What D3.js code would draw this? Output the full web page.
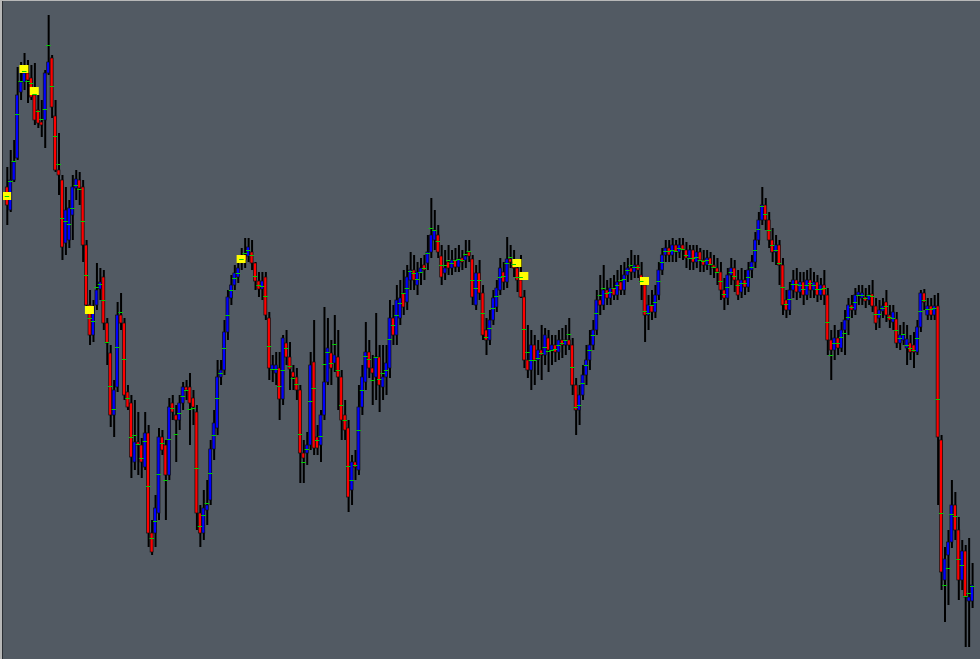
<!DOCTYPE html>
<html><head><meta charset="utf-8">
<script src="https://cdn.jsdelivr.net/npm/d3@7"></script>
<style>html,body{margin:0;padding:0;background:#525a63;overflow:hidden}svg{display:block}</style>
</head><body><svg id="c" width="980" height="659"></svg>
<script>
const opens=[813,790,820,842,908,918,927,922,905,890,878,880,927,942,884,830,820,757,760,785,812,820,813,755,695,665,695,711,723,677,647,585,613,685,677,608,597,538,558,555,533,567,467,467,487,563,555,525,597,585,580,597,613,613,602,588,487,467,490,500,551,572,623,630,668,702,715,723,742,745,744,748,737,719,711,723,682,630,627,632,601,657,643,628,623,610,547,547,555,638,563,555,585,618,647,637,643,623,585,572,510,538,530,593,618,648,632,623,643,613,623,632,682,665,682,707,698,720,730,715,727,735,737,748,760,765,744,727,738,732,740,733,742,740,748,741,695,727,707,670,660,680,693,710,728,718,741,738,732,720,703,640,630,655,640,650,645,662,650,655,648,660,655,660,655,615,590,605,625,640,655,670,700,695,710,702,712,705,718,710,725,732,728,735,725,715,685,695,688,705,730,745,752,745,755,748,755,750,742,750,738,748,740,735,742,735,732,728,710,702,725,732,720,708,720,713,730,738,760,780,795,780,760,748,755,735,700,690,710,720,708,718,705,720,710,718,705,715,705,660,650,662,652,670,680,695,690,705,702,703,700,706,694,682,689,698,685,678,681,657,660,652,657,655,648,673,707,685,694,685,694,560,420,445,458,495,470,420,449,399,399];
const highs=[833,850,860,933,938,947,940,935,937,905,900,930,985,945,900,867,825,813,800,825,830,828,820,760,710,700,737,732,730,682,655,620,698,707,682,615,605,600,588,562,588,575,480,505,572,570,560,602,605,595,605,618,620,627,610,595,495,510,520,560,590,640,640,680,710,725,735,738,752,762,762,760,738,728,728,728,688,645,648,648,665,670,658,635,632,615,560,568,648,680,575,590,693,682,660,685,670,630,600,580,545,550,615,635,678,660,645,687,655,655,655,700,695,715,720,730,735,748,745,738,742,745,765,802,790,775,755,750,755,750,752,755,750,760,760,745,735,740,715,682,690,710,720,742,738,763,755,750,738,745,710,675,670,665,660,675,672,670,665,665,670,672,675,682,662,622,615,635,655,670,680,710,725,735,720,722,725,730,735,738,742,750,745,745,738,720,705,710,715,738,752,760,760,762,760,762,762,758,755,755,755,752,750,750,748,745,742,738,722,732,742,740,730,732,730,738,745,768,788,813,802,788,772,765,760,742,710,718,730,732,728,728,730,732,728,725,722,730,712,670,675,670,678,690,702,705,712,715,715,712,715,720,702,700,702,710,695,695,688,675,678,675,665,668,680,710,711,702,702,705,707,565,453,470,520,508,483,460,455,462,437];
const lows=[775,788,818,840,900,910,897,900,875,872,863,852,925,882,828,805,740,745,752,760,800,795,738,690,655,658,690,700,670,635,573,563,608,670,600,590,522,530,525,522,530,453,445,453,480,545,480,520,580,538,570,590,600,555,575,470,453,460,475,495,540,565,615,625,660,695,710,717,730,732,738,730,710,703,700,680,620,618,615,580,595,635,610,610,600,517,517,535,550,545,545,538,580,615,615,628,590,560,560,488,495,520,525,585,610,622,595,600,588,600,605,622,655,655,675,685,690,710,710,705,715,720,730,742,750,742,715,720,725,725,728,728,730,732,738,695,690,700,660,645,655,675,688,705,710,712,732,723,708,702,632,622,610,615,625,620,635,628,635,638,640,642,645,650,605,565,575,600,615,630,650,665,685,690,695,695,700,700,705,705,718,720,722,722,700,658,670,680,682,700,725,738,738,738,738,742,740,732,730,730,732,728,728,730,725,722,715,700,690,695,715,708,700,702,705,708,722,732,755,775,770,752,738,735,715,685,682,685,702,700,702,695,700,702,702,698,700,695,645,620,640,645,648,645,665,682,685,695,695,692,695,688,670,672,682,678,672,670,652,650,655,635,640,632,645,668,690,680,680,680,495,410,378,395,452,460,400,410,353,353,392];
const closes=[795,820,838,905,918,927,920,903,880,877,875,927,938,893,830,825,753,790,792,813,821,812,755,695,665,693,710,718,677,657,585,610,685,677,605,593,543,558,555,538,567,467,448,492,563,550,525,593,588,580,597,613,610,597,593,487,467,492,495,551,577,623,630,668,703,715,727,732,738,740,753,737,719,711,719,685,632,635,635,601,662,643,631,623,610,547,542,555,635,552,552,585,618,652,632,645,623,580,570,503,538,533,593,623,648,632,627,643,615,623,637,682,665,700,702,693,723,730,720,728,732,730,748,765,770,748,723,732,732,740,733,741,738,744,744,703,727,707,665,660,680,702,712,732,718,741,738,732,720,703,640,630,655,640,650,645,665,650,655,648,660,655,660,655,615,590,605,625,640,655,670,700,695,710,702,712,705,718,710,725,732,728,735,730,718,685,695,688,705,730,745,752,745,755,748,755,750,742,750,738,748,740,735,742,735,732,728,710,702,725,732,720,705,720,713,730,738,760,780,795,780,760,748,755,735,695,690,710,720,708,718,705,720,710,718,705,715,705,660,650,662,652,670,680,695,690,705,708,707,699,705,694,677,690,694,685,680,688,657,665,665,661,648,648,673,707,698,694,685,694,563,428,441,458,495,470,420,449,403,403,415];
// signal markers (bar index and price level of the yellow square)
const signalIdx=[0,5,8,24,68,148,150,185];
const signalPrice=[804,931,909,690,741,737,724,719];

const svg=d3.select("#c");
const W=980,H=659,N=opens.length;
svg.append("rect").attr("width",W).attr("height",H).attr("fill","#525a63");
const x=d3.scaleLinear().domain([0,N-1]).range([6.7,972]);
const y=d3.scaleLinear().domain([350,990]).range([650,10]);
const idx=d3.range(N);
const g=svg.append("g");
// wicks
g.selectAll("line.w").data(idx).join("line").attr("class","w")
 .attr("x1",i=>x(i)+0.6).attr("x2",i=>x(i)+0.6)
 .attr("y1",i=>y(highs[i])).attr("y2",i=>y(lows[i]))
 .attr("stroke","#000").attr("stroke-width",2);
// bodies
g.selectAll("rect.b").data(idx).join("rect").attr("class","b")
 .attr("x",i=>x(i)-1.4).attr("width",3)
 .attr("y",i=>y(Math.max(opens[i],closes[i])))
 .attr("height",i=>Math.max(1,Math.abs(y(opens[i])-y(closes[i]))))
 .attr("fill",i=>closes[i]>=opens[i]?"#0000ff":"#ff0000")
 .attr("stroke","#111").attr("stroke-width",0.7);
// signal squares
g.selectAll("rect.s").data(signalIdx).join("rect").attr("class","s")
 .attr("x",(d,k)=>x(d)-4.5).attr("y",(d,k)=>y(signalPrice[k])-4)
 .attr("width",9).attr("height",8).attr("fill","#ffff00");
// median price ticks
g.selectAll("line.m").data(idx).join("line").attr("class","m")
 .attr("x1",i=>x(i)-2).attr("x2",i=>x(i)+2.5)
 .attr("y1",i=>Math.round(y((highs[i]+lows[i])/2))+0.5).attr("y2",i=>Math.round(y((highs[i]+lows[i])/2))+0.5)
 .attr("stroke","#00d000").attr("stroke-width",1);
// frame
svg.append("rect").attr("x",0).attr("y",0).attr("width",2).attr("height",H).attr("fill","#b8b8b8");
svg.append("rect").attr("x",2).attr("y",1).attr("width",1).attr("height",H).attr("fill","#2a2e33");
svg.append("rect").attr("x",0).attr("y",0).attr("width",W).attr("height",1).attr("fill","#b8b8b8");
</script></body></html>
